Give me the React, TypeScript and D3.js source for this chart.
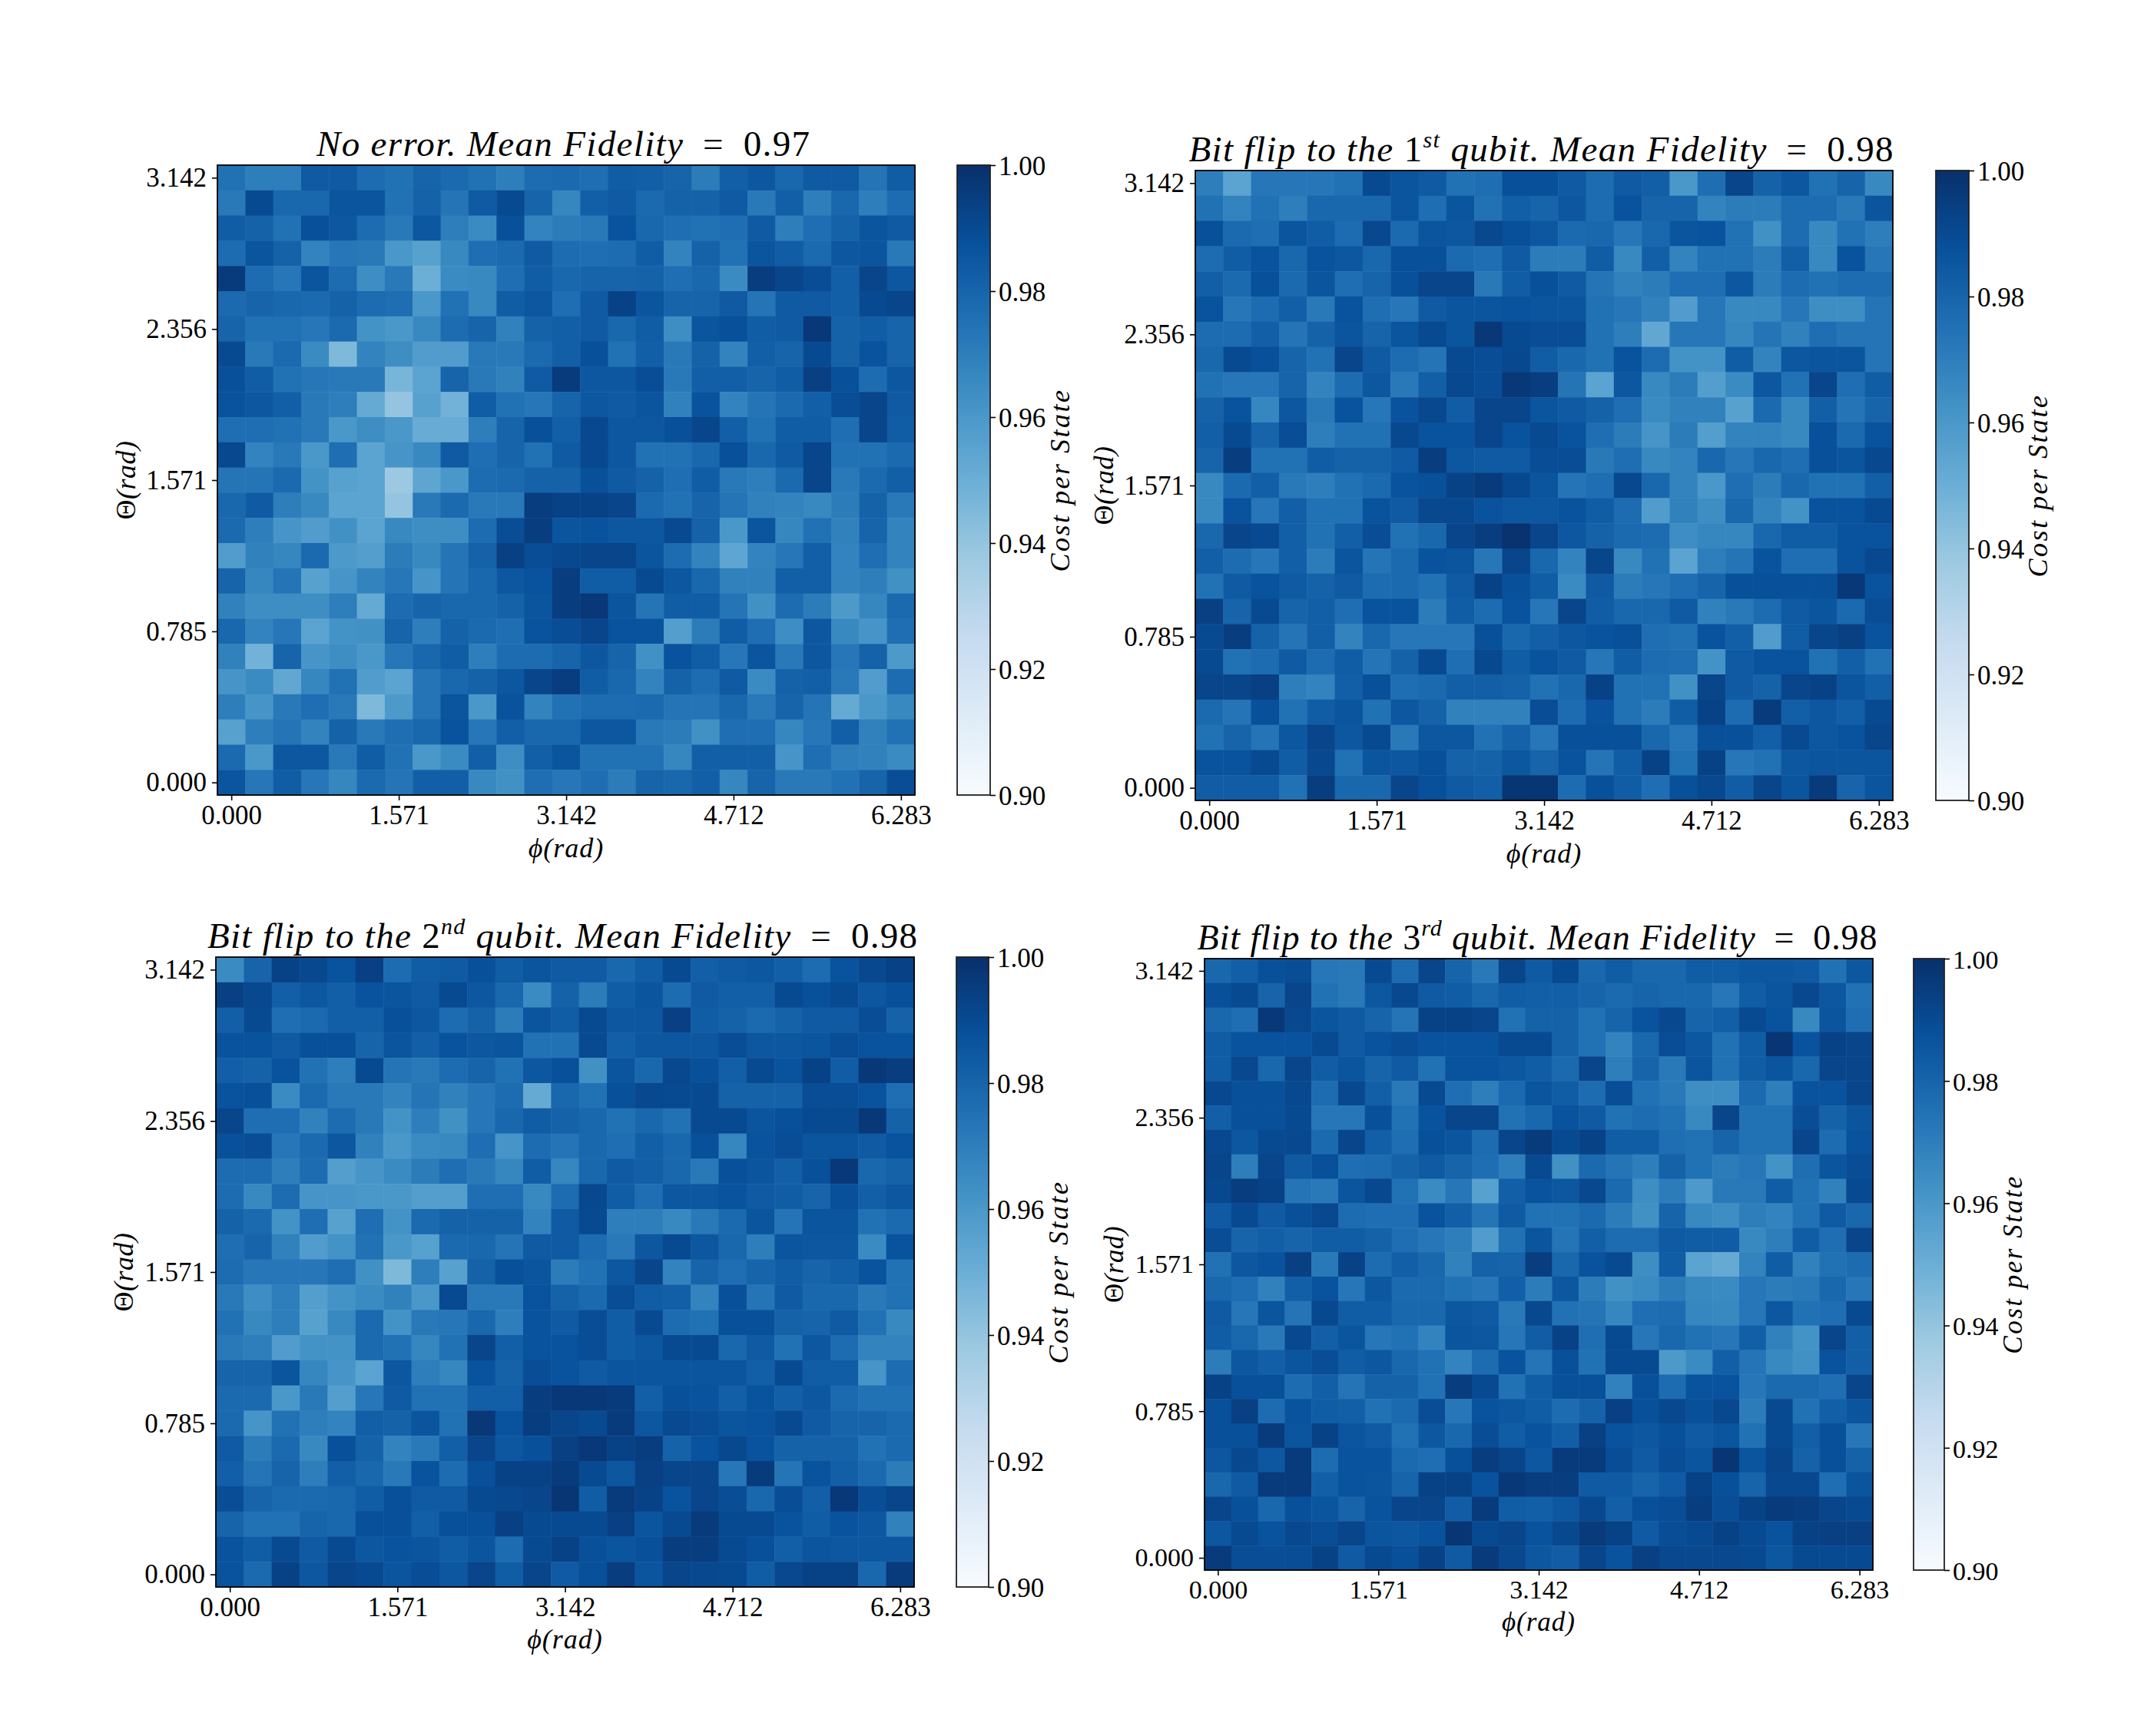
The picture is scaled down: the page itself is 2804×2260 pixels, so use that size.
import * as d3 from 'd3'
import { useEffect, useRef } from 'react'

// cost per state in thousandths, rows listed top (theta = pi) to bottom (theta = 0)
const noError = [
  [975,970,970,984,984,977,975,980,978,975,970,977,978,976,983,982,980,971,982,985,979,984,984,974,983],
  [972,990,979,979,986,986,975,981,974,984,990,980,967,982,984,978,981,981,984,972,982,970,979,970,977],
  [983,981,975,988,985,977,972,985,970,965,988,968,971,972,987,979,976,975,976,984,970,976,981,986,984],
  [977,986,981,968,973,972,960,956,966,976,978,984,977,976,977,983,968,981,975,986,983,978,985,986,972],
  [996,977,973,986,977,964,972,950,965,966,976,983,979,980,980,981,976,979,965,995,992,989,982,992,985],
  [978,980,979,978,981,977,976,960,975,966,983,985,976,984,993,986,980,980,984,974,984,984,982,990,992],
  [980,975,975,973,978,962,960,966,977,980,969,981,982,984,979,983,964,986,988,983,984,997,981,983,980],
  [990,972,978,965,945,968,964,958,958,972,972,978,982,988,975,982,972,981,968,982,980,990,981,987,980],
  [988,983,975,973,972,972,947,955,980,972,969,984,996,985,985,989,972,982,982,980,983,994,988,977,985],
  [987,985,982,972,970,952,940,956,948,983,975,973,980,985,984,986,969,987,968,974,978,982,989,992,984],
  [976,976,975,972,960,964,960,951,951,970,980,988,982,991,985,985,988,992,982,975,983,983,976,992,983],
  [991,968,972,960,976,955,961,966,984,976,980,975,984,991,985,975,975,979,988,979,984,992,975,975,978],
  [974,974,978,962,956,955,938,954,960,977,978,981,981,988,984,981,976,983,972,970,978,992,972,978,982],
  [979,984,970,966,955,955,940,972,978,972,972,995,993,993,992,978,975,980,974,969,968,966,971,981,972],
  [978,970,961,958,963,955,966,964,964,977,989,995,986,987,985,985,990,981,960,986,967,975,969,980,968],
  [958,969,967,978,959,957,971,966,974,981,994,989,991,992,992,986,977,968,954,968,973,982,968,976,968],
  [980,967,974,956,961,968,973,961,974,979,985,987,995,983,983,990,985,979,969,969,982,982,968,970,963],
  [969,964,964,964,970,952,977,980,979,979,981,986,995,997,986,974,983,983,974,963,977,971,959,967,978],
  [979,968,973,955,962,963,980,970,981,978,976,987,989,992,987,987,957,971,983,976,964,985,966,961,976],
  [969,948,980,961,964,960,973,979,983,970,977,977,980,985,980,963,987,983,973,986,972,985,973,981,959],
  [961,965,953,967,975,958,955,974,979,981,985,992,995,983,979,968,981,977,984,965,981,982,972,958,977],
  [970,961,972,976,972,945,959,974,986,960,987,968,975,977,977,978,974,974,979,972,980,974,952,960,966],
  [956,970,974,968,981,972,976,979,987,973,982,979,979,985,985,972,971,963,976,976,967,973,982,969,975],
  [978,960,985,985,972,983,975,960,965,982,964,982,986,975,975,975,967,982,982,982,961,976,970,969,965],
  [986,973,983,973,967,978,974,982,982,966,963,976,973,976,971,980,979,982,967,980,972,972,975,980,989],
]

const flipFirst = [
  [970,955,973,973,973,975,990,986,984,975,976,988,988,984,977,984,982,960,976,992,981,985,975,980,966],
  [975,968,975,970,979,979,979,986,976,986,975,982,980,985,977,987,980,980,968,971,971,977,977,972,986],
  [988,978,976,986,983,977,991,978,986,985,991,988,985,978,979,973,979,986,987,975,963,977,966,975,970],
  [977,983,987,979,987,985,979,988,988,978,976,984,971,971,983,966,982,968,975,975,971,982,966,987,973],
  [982,978,988,978,986,976,980,988,992,992,972,983,988,984,974,969,971,976,976,985,971,977,975,977,977],
  [987,973,977,982,972,987,976,973,984,986,986,987,986,986,975,973,969,958,973,966,966,973,964,964,974],
  [977,977,982,974,981,986,980,986,990,986,997,990,989,989,975,970,953,973,973,967,974,969,976,974,974],
  [979,990,988,980,975,992,984,977,974,990,989,991,983,979,975,987,977,962,962,983,968,985,986,986,974],
  [975,973,973,980,968,977,985,972,982,991,989,997,995,974,955,985,966,971,957,965,985,975,992,976,983],
  [981,987,967,985,972,987,973,987,991,983,992,992,986,984,981,976,965,969,969,956,978,966,982,974,980],
  [982,990,980,989,970,975,975,991,987,987,992,987,990,987,976,971,961,971,957,968,968,966,988,978,987],
  [980,995,975,975,983,981,981,984,995,985,984,984,989,989,972,976,966,968,979,973,979,976,988,986,991],
  [966,978,982,972,970,975,978,987,988,993,996,991,986,974,976,991,979,968,960,976,971,979,975,975,982],
  [966,987,973,982,975,975,987,984,991,991,987,985,985,987,983,977,958,969,964,979,968,962,987,987,990],
  [979,992,990,982,975,982,989,975,979,992,995,999,992,985,981,978,977,964,967,967,979,983,983,987,987],
  [982,977,973,982,971,986,974,978,987,986,973,992,979,968,992,966,975,955,970,974,987,976,976,987,991],
  [975,984,987,984,981,984,977,978,975,984,993,988,983,965,984,971,973,976,980,988,988,988,988,997,987],
  [994,980,990,980,982,976,987,987,971,983,977,987,973,992,983,979,979,984,969,972,977,984,986,978,989],
  [990,995,981,974,982,968,979,973,973,973,988,979,982,985,987,988,976,975,987,982,958,983,992,994,987],
  [990,975,977,984,977,983,974,981,990,976,991,983,987,984,973,983,977,976,962,984,987,987,975,982,975],
  [992,992,994,970,968,982,988,976,978,982,982,981,975,979,993,975,975,963,992,984,981,992,993,986,982],
  [978,974,988,975,983,986,975,985,981,969,969,969,989,977,987,975,971,983,993,977,996,982,985,982,990],
  [975,980,974,985,992,985,990,972,985,985,975,981,973,988,988,988,979,973,988,988,982,990,985,987,992],
  [987,987,990,983,991,975,986,985,988,981,981,985,980,987,974,983,993,975,993,973,975,985,986,986,986],
  [983,983,983,975,995,979,979,992,988,984,982,998,998,977,988,983,976,988,991,983,992,986,996,980,986],
]

const flipSecond = [
  [965,980,993,991,987,994,977,983,984,988,983,986,984,984,979,983,990,982,984,985,982,977,987,991,993],
  [994,991,982,985,982,987,986,984,990,985,979,965,981,971,983,986,977,984,982,982,990,988,990,985,988],
  [982,990,976,978,982,982,988,985,977,981,971,986,983,990,985,985,994,983,981,978,981,984,984,989,981],
  [987,987,984,988,988,980,986,982,987,985,986,975,975,990,982,985,985,985,989,985,985,986,989,987,987],
  [982,981,987,975,970,990,974,972,977,980,975,985,988,963,986,979,991,988,982,990,987,993,983,997,995],
  [987,988,965,978,972,972,968,974,969,973,977,952,979,975,988,991,990,990,981,981,981,989,989,987,976],
  [992,976,976,969,977,972,962,970,963,973,979,983,981,979,975,979,975,990,990,986,988,990,990,997,981],
  [988,989,973,978,985,969,960,965,966,976,961,977,974,979,976,982,979,988,967,987,989,986,986,984,987],
  [977,977,970,977,957,961,965,971,976,972,967,983,967,979,984,982,979,972,988,986,982,988,997,979,981],
  [977,966,977,961,961,960,960,957,957,976,976,966,977,991,983,976,985,985,987,984,983,980,988,982,985],
  [981,978,962,976,956,976,962,978,981,981,981,968,984,990,970,970,966,972,978,986,974,986,986,975,978],
  [976,980,969,958,962,975,960,956,978,979,974,984,984,977,972,985,990,985,979,970,986,985,985,965,987],
  [977,973,973,973,976,963,945,970,956,981,988,986,971,975,985,992,968,980,976,980,983,980,982,987,975],
  [972,964,970,957,962,965,969,960,990,972,972,987,981,978,989,983,982,968,988,974,984,979,979,972,975],
  [975,966,970,956,966,978,962,972,973,979,970,987,984,989,983,990,977,975,988,988,981,980,984,975,966],
  [972,970,958,962,962,978,975,967,975,992,982,987,987,989,983,985,990,990,979,984,975,985,977,968,968],
  [980,980,986,967,961,955,985,970,967,987,981,989,987,984,986,986,986,986,986,982,990,983,983,961,977],
  [978,978,960,972,957,973,984,975,975,982,982,995,997,997,996,982,988,987,982,987,982,985,978,975,975],
  [978,961,975,970,968,982,981,986,975,997,987,995,992,990,996,985,990,989,986,987,990,984,980,980,978],
  [984,971,978,966,988,981,968,972,982,992,985,988,994,997,993,995,981,987,991,987,981,981,981,975,978],
  [982,974,980,970,982,979,972,987,977,988,993,993,996,990,985,994,992,992,973,996,974,987,982,978,971],
  [989,980,978,978,979,983,988,984,984,990,991,992,998,983,996,993,987,992,989,979,989,982,997,989,992],
  [980,975,975,980,979,988,988,982,988,988,994,990,990,990,994,986,990,996,990,990,987,983,987,985,969],
  [987,983,990,984,990,985,987,986,983,986,977,990,993,988,986,988,995,995,990,988,982,986,985,985,985],
  [987,978,993,985,992,990,986,989,985,992,983,992,984,988,995,986,992,991,990,983,991,993,993,979,996],
]

const flipThird = [
  [979,982,988,989,973,972,990,977,992,980,972,992,984,990,979,983,979,979,983,983,985,985,984,975,985],
  [988,990,980,992,975,972,985,991,984,983,979,983,982,982,980,978,980,979,979,973,983,986,991,985,975],
  [979,976,997,991,986,984,980,974,993,993,992,975,981,981,975,980,987,991,980,982,990,987,966,986,976],
  [983,987,987,987,990,984,987,989,987,987,987,990,990,981,975,968,979,989,985,975,983,998,987,993,992],
  [983,991,979,992,983,986,980,984,975,987,987,985,983,978,992,970,980,972,986,975,983,986,979,992,992],
  [991,988,988,991,977,991,982,972,990,976,970,978,986,983,977,989,975,972,964,964,978,970,987,987,992],
  [982,988,988,990,973,973,988,975,987,992,992,975,979,987,984,975,977,975,966,992,975,975,989,981,986],
  [991,985,990,991,978,992,982,976,988,986,977,992,996,990,993,983,983,976,975,980,975,975,992,977,987],
  [992,970,992,984,988,976,977,981,984,980,976,970,990,963,978,974,970,981,975,971,973,962,976,986,989],
  [991,995,993,974,972,986,991,975,965,973,956,982,987,985,991,978,964,971,959,972,972,983,975,969,990],
  [984,990,984,988,991,977,976,976,987,982,974,984,975,975,978,971,963,980,966,964,970,968,975,984,979],
  [989,980,982,980,983,983,981,976,973,970,958,975,986,974,982,977,977,984,983,983,966,970,983,976,992],
  [975,985,987,994,972,993,977,982,979,969,981,980,995,979,987,990,964,983,955,952,968,983,969,975,977],
  [979,976,969,982,987,973,985,978,978,975,973,982,971,985,971,963,965,971,966,965,973,971,972,979,973],
  [984,973,986,974,991,983,983,979,979,985,984,972,991,975,974,967,976,977,967,966,973,985,975,976,990],
  [983,979,972,991,982,986,973,975,968,986,985,973,983,993,976,990,973,979,975,973,982,969,962,992,982],
  [971,985,982,986,989,983,985,979,975,968,977,987,974,988,975,990,990,959,965,982,974,966,963,987,982],
  [993,988,988,977,982,974,981,981,975,995,990,975,983,988,988,969,988,977,987,987,973,978,978,976,992],
  [988,994,977,987,983,982,975,978,989,973,987,985,983,977,981,994,988,991,988,991,971,990,975,982,986],
  [988,988,996,986,993,986,984,975,985,979,989,983,987,982,994,987,985,988,984,986,975,990,982,988,973],
  [985,991,985,996,977,987,987,978,976,988,995,992,985,996,996,989,984,989,986,998,986,992,981,988,981],
  [979,984,996,996,982,987,986,980,993,993,987,997,995,995,984,984,980,984,993,988,980,991,991,976,986],
  [992,988,979,988,986,980,987,992,992,983,996,983,982,985,991,982,988,989,995,989,993,996,995,992,990],
  [985,990,987,991,989,992,986,985,987,998,990,992,987,991,996,993,984,989,990,993,990,987,993,994,994],
  [996,989,989,989,993,984,990,988,993,984,996,991,985,983,992,987,994,991,991,991,990,985,990,990,990],
]

const phiTicks = [0, 1.571, 3.142, 4.712, 6.283]
const thetaTicks = [0, 0.785, 1.571, 2.356, 3.142]
const costTicks = [900, 920, 940, 960, 980, 1000]

const FONT = '"Liberation Serif", serif'
const color = d3.scaleLinear<string>().domain(d3.range(9).map((i) => 900 + i * 12.5)).range(d3.schemeBlues[9])

interface PanelProps {
  id: string
  data: number[][]
  left: number
  right: number
  top: number
  bottom: number
  barLeft: number
  barRight: number
  title: React.ReactNode
  titleX: number
  titleLen: number
  thetaX: number
  phiY: number
  costX: number
  fontSize: number
}

function Panel({ id, data, left, right, top, bottom, barLeft, barRight, title, titleX, titleLen, thetaX, phiY, costX, fontSize }: PanelProps) {
  const xAxisRef = useRef<SVGGElement>(null)
  const yAxisRef = useRef<SVGGElement>(null)
  const barAxisRef = useRef<SVGGElement>(null)

  const cols = d3.range(data[0].length)
  const rows = d3.range(data.length)
  const xBand = d3.scaleBand<number>().domain(cols).range([left, right])
  const yBand = d3.scaleBand<number>().domain(rows).range([top, bottom])
  const x = d3.scaleLinear().domain([0, 6.283]).range([left + xBand.bandwidth() / 2, right - xBand.bandwidth() / 2])
  const y = d3.scaleLinear().domain([0, 3.142]).range([bottom - yBand.bandwidth() / 2, top + yBand.bandwidth() / 2])
  const bar = d3.scaleLinear().domain([900, 1000]).range([bottom, top])

  useEffect(() => {
    const style = (sel: d3.Selection<SVGGElement, unknown, null, undefined>) => {
      sel.selectAll('.domain').remove()
      sel.selectAll('line').attr('stroke', '#000').attr('stroke-width', 1.6)
      sel.selectAll('text').attr('font-family', FONT).attr('font-size', fontSize).attr('fill', '#000')
    }
    d3.select(xAxisRef.current!)
      .call(d3.axisBottom(x).tickValues(phiTicks).tickFormat((d) => (+d).toFixed(3)).tickSize(7).tickPadding(6))
      .call(style)
    d3.select(yAxisRef.current!)
      .call(d3.axisLeft(y).tickValues(thetaTicks).tickFormat((d) => (+d).toFixed(3)).tickSize(7).tickPadding(7))
      .call(style)
    d3.select(barAxisRef.current!)
      .call(d3.axisRight(bar).tickValues(costTicks).tickFormat((d) => (+d / 1000).toFixed(2)).tickSize(7).tickPadding(4))
      .call(style)
      .call((sel) => sel.selectAll('text').attr('dy', '0.36em'))
  })

  return (
    <g>
      <defs>
        <linearGradient id={`bar-${id}`} x1="0" y1="1" x2="0" y2="0">
          {d3.schemeBlues[9].map((c, i) => (
            <stop key={c} offset={`${i * 12.5}%`} stopColor={c} />
          ))}
        </linearGradient>
      </defs>
      {data.map((row, r) =>
        row.map((v, c) => (
          <rect
            key={`${r}-${c}`}
            x={xBand(c)}
            y={yBand(r)}
            width={xBand.bandwidth() + 0.5}
            height={yBand.bandwidth() + 0.5}
            fill={color(v)}
          />
        )),
      )}
      <rect x={left} y={top} width={right - left} height={bottom - top} fill="none" stroke="#000" strokeWidth={1.8} />
      <rect x={barLeft} y={top} width={barRight - barLeft} height={bottom - top} fill={`url(#bar-${id})`} stroke="#222" strokeWidth={1.8} />
      <g ref={xAxisRef} transform={`translate(0,${bottom})`} />
      <g ref={yAxisRef} transform={`translate(${left},0)`} />
      <g ref={barAxisRef} transform={`translate(${barRight},0)`} />
      <text
        x={titleX}
        y={top - 12}
        textAnchor="middle"
        fontFamily={FONT}
        fontSize={fontSize + 12}
        textLength={titleLen}
        lengthAdjust="spacing"
      >
        {title}
      </text>
      <text x={(left + right) / 2} y={phiY} textAnchor="middle" fontFamily={FONT} fontSize={fontSize + 1} letterSpacing={1}>
        <tspan fontStyle="italic">ϕ(rad)</tspan>
      </text>
      <text
        transform={`translate(${thetaX},${(top + bottom) / 2}) rotate(-90)`}
        textAnchor="middle"
        fontFamily={FONT}
        fontSize={fontSize + 1}
        letterSpacing={0.5}
      >
        Θ<tspan fontStyle="italic">(rad)</tspan>
      </text>
      <text
        transform={`translate(${costX},${(top + bottom) / 2}) rotate(-90)`}
        textAnchor="middle"
        fontFamily={FONT}
        fontSize={fontSize + 1}
        fontStyle="italic"
        letterSpacing={2.5}
      >
        Cost per State
      </text>
    </g>
  )
}

function flipTitle(n: string, ord: string, fid: string) {
  return (
    <>
      <tspan fontStyle="italic">Bit flip to the </tspan>
      {n}
      <tspan fontSize={30} dy={-18} fontStyle="italic">{ord}</tspan>
      <tspan dy={18} fontStyle="italic"> qubit. Mean Fidelity</tspan>
      {'\u2002=\u2002'}
      {fid}
    </>
  )
}

export default function App() {
  return (
    <svg width={2804} height={2260} style={{ position: 'absolute', left: 0, top: 0, background: '#fff' }}>
      <Panel
        id="a"
        data={noError}
        left={283}
        right={1191}
        top={215}
        bottom={1035}
        barLeft={1246}
        barRight={1289}
        titleX={733}
        titleLen={642}
        thetaX={176}
        phiY={1116}
        costX={1392}
        fontSize={35}
        title={
          <>
            <tspan fontStyle="italic">No error. Mean Fidelity</tspan>
            {'\u2002=\u2002'}0.97
          </>
        }
      />
      <Panel
        id="b"
        data={flipFirst}
        left={1556}
        right={2464}
        top={222}
        bottom={1042}
        barLeft={2520}
        barRight={2563}
        titleX={2006}
        titleLen={917}
        thetaX={1449}
        phiY={1123}
        costX={2665}
        fontSize={35}
        title={flipTitle('1', 'st', '0.98')}
      />
      <Panel
        id="c"
        data={flipSecond}
        left={281}
        right={1190}
        top={1246}
        bottom={2066}
        barLeft={1245}
        barRight={1287}
        titleX={732}
        titleLen={924}
        thetaX={173}
        phiY={2146}
        costX={1390}
        fontSize={35}
        title={flipTitle('2', 'nd', '0.98')}
      />
      <Panel
        id="d"
        data={flipThird}
        left={1568}
        right={2438}
        top={1248}
        bottom={2044}
        barLeft={2491}
        barRight={2531}
        titleX={2001}
        titleLen={885}
        thetaX={1462}
        phiY={2123}
        costX={2632}
        fontSize={34}
        title={flipTitle('3', 'rd', '0.98')}
      />
    </svg>
  )
}
